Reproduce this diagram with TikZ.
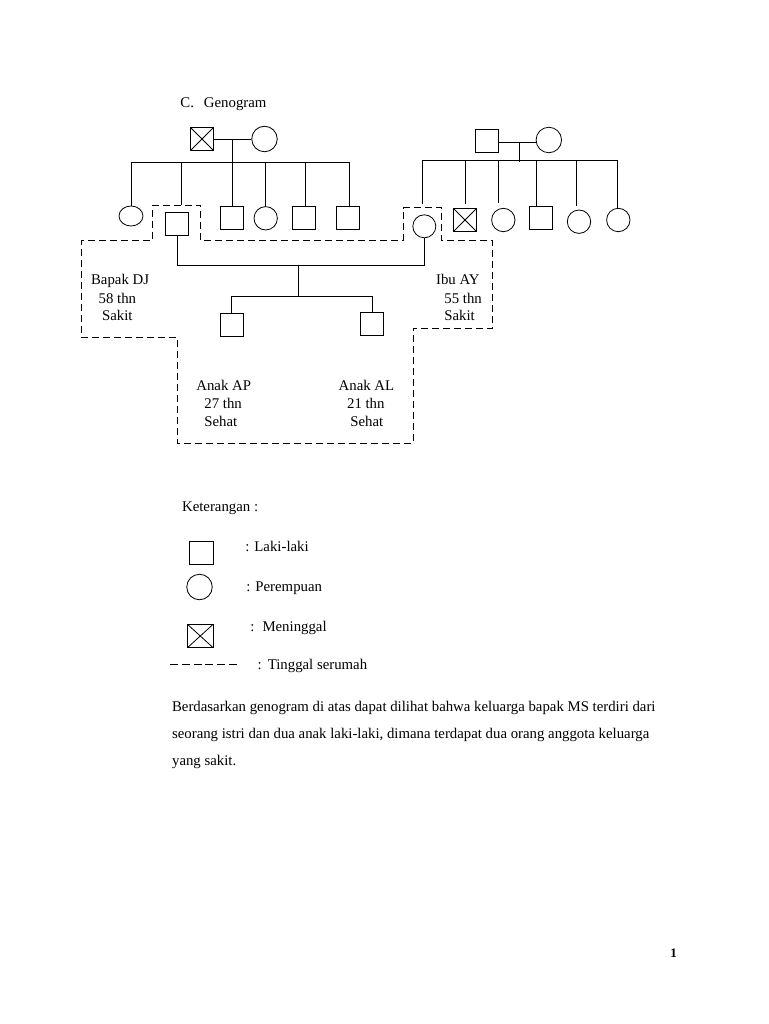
\documentclass[tikz,border=0pt]{standalone}
\usepackage{fontspec}
\setmainfont{Liberation Serif}
\usetikzlibrary{shapes.geometric}

\begin{document}
\begin{tikzpicture}[x=1pt, y=-1pt, line width=0.8pt,
  male/.style={rectangle, draw, minimum size=23pt, inner sep=0pt},
  female/.style={circle, draw, minimum size=24pt, inner sep=0pt},
  dead/.style={male, path picture={\draw[line width=0.8pt] (path picture bounding box.north west) -- (path picture bounding box.south east) (path picture bounding box.north east) -- (path picture bounding box.south west);}},
  lbl/.style={anchor=base west, inner sep=0pt, font=\fontsize{14.8}{17}\selectfont},
  house/.style={dash pattern=on 7pt off 4pt}]
\fill[white] (0,0) rectangle (768,1024);
\useasboundingbox (0,0) rectangle (768,1024);

\node[lbl] (title) at (180,108) {C.\hspace{10pt}Genogram};

\node[dead] (gpL) at (202,139) {};
\node[female, minimum size=25.5pt] (gmL) at (264.5,139) {};
\node[ellipse, draw, minimum width=24pt, minimum height=20pt, inner sep=0pt] (c1) at (131,216) {};
\node[male] (dj) at (177,224) {};
\node[male] (c3) at (231.7,218) {};
\node[female, minimum size=23.4pt] (c4) at (265.7,218.3) {};
\node[male] (c5) at (304.3,218) {};
\node[male] (c6) at (348.3,218) {};

\node[male] (gpR) at (487.2,141) {};
\node[female, minimum size=25.5pt] (gmR) at (548.8,140) {};
\node[female, minimum size=23pt] (ay) at (424.3,226.3) {};
\node[dead, minimum size=23.4pt] (r2) at (465,220) {};
\node[female, minimum size=23.4pt] (r3) at (503.3,220) {};
\node[male] (r4) at (541,217.7) {};
\node[female, minimum size=23.4pt] (r5) at (579,221.7) {};
\node[female, minimum size=23.4pt] (r6) at (618.3,220) {};

\node[male] (ap) at (231.7,324.7) {};
\node[male] (al) at (372.3,324) {};

\coordinate (mL) at (232.3,139);
\coordinate (sibL) at (0,162);
\coordinate (mR) at (519.3,142);
\coordinate (sibR) at (0,160);
\coordinate (core) at (0,265);
\coordinate (kid) at (298.7,296);

\draw (gpL) -- (gmL);
\draw (mL) -- (mL |- sibL);
\draw ([xshift=0.7pt]c1.north |- sibL) -- ([xshift=1pt]c6.north |- sibL);
\foreach \n/\dx/\up in {c1/0.7/0, dj/4.7/7.5, c3/0.5/0, c4/0/0, c5/0.7/0, c6/1/0}
  \draw ([xshift=\dx pt, yshift=\up pt]\n.north) -- ([xshift=\dx pt]\n.north |- sibL);

\draw (gpR.east |- mR) -- (gmR.west |- mR);
\draw (mR) -- ([yshift=-2pt]mR |- sibR);
\draw ([xshift=-2pt]ay.north |- sibR) -- ([xshift=-0.6pt]r6.north |- sibR);
\foreach \n/\dx/\up in {ay/-2/10, r2/0/4, r3/-5/5, r4/-4.3/0, r5/-2.3/3.3, r6/-0.6/0}
  \draw ([xshift=\dx pt, yshift=\up pt]\n.north) -- ([xshift=\dx pt]\n.north |- sibR);

\draw (dj) -- (dj |- core) -- (ay |- core) -- (ay);
\draw (kid |- core) -- (kid);
\draw (ap |- kid) -- (al |- kid);
\draw (ap |- kid) -- (ap);
\draw (al |- kid) -- (al);

\draw[house] (200.7,240) -- (200.7,205) -- (152.7,205) -- (152.7,240) -- (81.7,240) -- (81.7,337.3) -- (177.3,337.3) -- (177.3,443.3) -- (413.3,443.3) -- (413.3,328.3) -- (492.7,328.3) -- (492.7,240) -- (441.7,240) -- (441.7,207.7) -- (403.3,207.7) -- (403.3,240) -- cycle;

\node[lbl] (djname) at (90.7,284.3) {Bapak DJ};
\node[lbl] (djage) at (98.3,303.3) {58 thn};
\node[lbl] (djstat) at (101.7,320) {Sakit};
\node[lbl] (ayname) at (435.7,284.3) {Ibu AY};
\node[lbl] (ayage) at (444,303.3) {55 thn};
\node[lbl] (aystat) at (444,320) {Sakit};
\node[lbl] (apname) at (196,390.7) {Anak AP};
\node[lbl] (apage) at (204,408.3) {27 thn};
\node[lbl] (apstat) at (204,426.7) {Sehat};
\node[lbl] (alname) at (338.3,390.7) {Anak AL};
\node[lbl] (alage) at (346.7,408.3) {21 thn};
\node[lbl] (alstat) at (350,426.7) {Sehat};

\node[lbl] (ket) at (181.7,511.5) {Keterangan :};
\node[male, minimum size=23.5pt] (legm) at (201.2,553) {};
\node[lbl] (legmtxt) at (245,551) {: Laki-laki};
\node[female, minimum size=25.5pt] (legf) at (199.5,587) {};
\node[lbl] (legftxt) at (246,591) {: Perempuan};
\node[dead, minimum width=26pt, minimum height=23.7pt] (legd) at (200.3,636) {};
\node[lbl] (legdtxt) at (250,631) {:\hspace{8pt}Meninggal};
\draw[dash pattern=on 8pt off 3.8pt] (170,664) -- (237,664);
\node[lbl] (leghtxt) at (257.3,669) {:\hspace{6pt}Tinggal serumah};

\node[lbl] (par1) at (171.7,711) {Berdasarkan genogram di atas dapat dilihat bahwa keluarga bapak MS terdiri dari};
\node[lbl] (par2) at (171.7,738.3) {seorang istri dan dua anak laki-laki, dimana terdapat dua orang anggota keluarga};
\node[lbl] (par3) at (171.7,765.7) {yang sakit.};

\node[lbl, font=\fontsize{13}{15}\selectfont\bfseries] (page) at (670,957) {1};
\end{tikzpicture}
\end{document}
